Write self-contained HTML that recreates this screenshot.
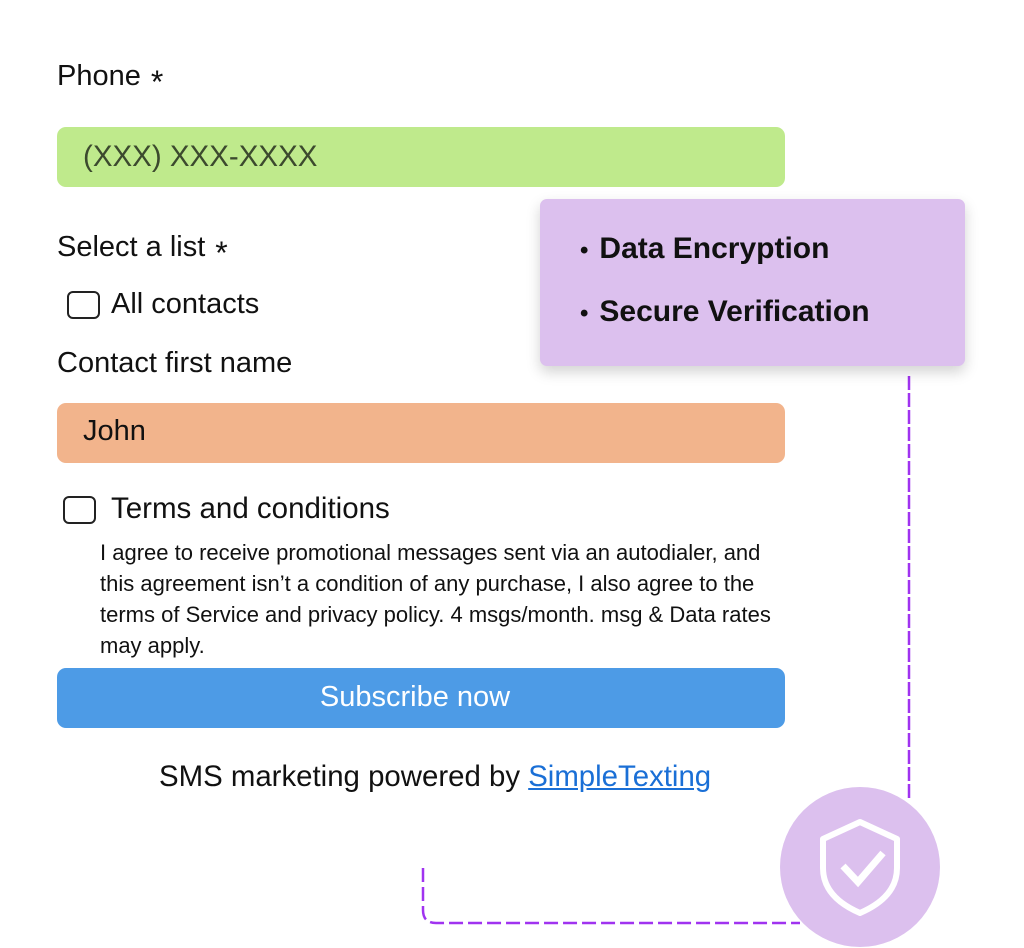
<!DOCTYPE html>
<html><head><meta charset="utf-8"><style>
*{margin:0;padding:0;box-sizing:border-box}
body{width:1024px;height:948px;background:#fff;position:relative;overflow:hidden;font-family:"Liberation Sans",Arial,sans-serif;color:#111}
.a{position:absolute;white-space:nowrap}
.lbl{font-size:29px}
.ast{position:relative;top:8px;font-size:32px;margin-left:10px}
.box{position:absolute;left:57px;width:728px;height:60px;border-radius:9px}
.cb{position:absolute;width:33px;height:28px;border:2px solid #222;border-radius:6px}
</style></head><body>
<div class="a lbl" style="left:57px;top:56px">Phone<span class="ast">*</span></div>
<div class="box" style="top:127px;background:#bfea8c"></div>
<div class="a" style="left:83px;top:140px;font-size:29.5px;color:#3c4a2e">(XXX) XXX-XXXX</div>
<div class="a lbl" style="left:57px;top:227px">Select a list<span class="ast">*</span></div>
<div class="cb" style="left:67px;top:291px"></div>
<div class="a lbl" style="left:111px;top:288px">All contacts</div>
<div class="a lbl" style="left:57px;top:347px">Contact first name</div>
<div class="box" style="top:403px;background:#f2b48c"></div>
<div class="a" style="left:83px;top:415px;font-size:29px">John</div>
<div class="cb" style="left:63px;top:496px"></div>
<div class="a lbl" style="left:111px;top:492px;font-size:29.5px">Terms and conditions</div>
<div class="a" style="left:100px;top:537px;font-size:22px;line-height:31px;white-space:normal;width:760px">I agree to receive promotional messages sent via an autodialer, and<br>this agreement isn’t a condition of any purchase, I also agree to the<br>terms of Service and privacy policy. 4 msgs/month. msg &amp; Data rates<br>may apply.</div>
<div class="box" style="top:668px;background:#4d9be6"></div>
<div class="a" style="left:51px;width:728px;text-align:center;top:681px;font-size:29px;color:#fff">Subscribe now</div>
<div class="a" style="left:159px;top:760px;font-size:29.4px">SMS marketing powered by <span style="color:#1a6fd6;text-decoration:underline">SimpleTexting</span></div>
<svg class="a" style="left:0;top:0" width="1024" height="948">
<path d="M909 376 V800" stroke="#a033f0" stroke-width="2.5" fill="none" stroke-dasharray="14 3"/>
<path d="M423 868 V910 Q423 923 436 923 H800" stroke="#a033f0" stroke-width="2.5" fill="none" stroke-dasharray="14 5"/>
<circle cx="860" cy="867" r="80" fill="#dcc0ee"/>
<path d="M860 822 L897 839 V868 Q897 897 860 913 Q823 897 823 868 V839 Z" fill="none" stroke="#fff" stroke-width="6" stroke-linejoin="round"/>
<path d="M843 866 L858 882 L883 853" fill="none" stroke="#fff" stroke-width="7"/>
</svg>
<div class="a" style="left:540px;top:199px;width:425px;height:167px;background:#dcc0ee;border-radius:7px;box-shadow:0 6px 14px rgba(0,0,0,0.18)"></div>
<div class="a" style="left:580px;top:232px;font-size:30px;font-weight:bold"><span style="font-size:24px;margin-right:11px">•</span>Data Encryption</div>
<div class="a" style="left:580px;top:295px;font-size:30px;font-weight:bold"><span style="font-size:24px;margin-right:11px">•</span>Secure Verification</div>
</body></html>
